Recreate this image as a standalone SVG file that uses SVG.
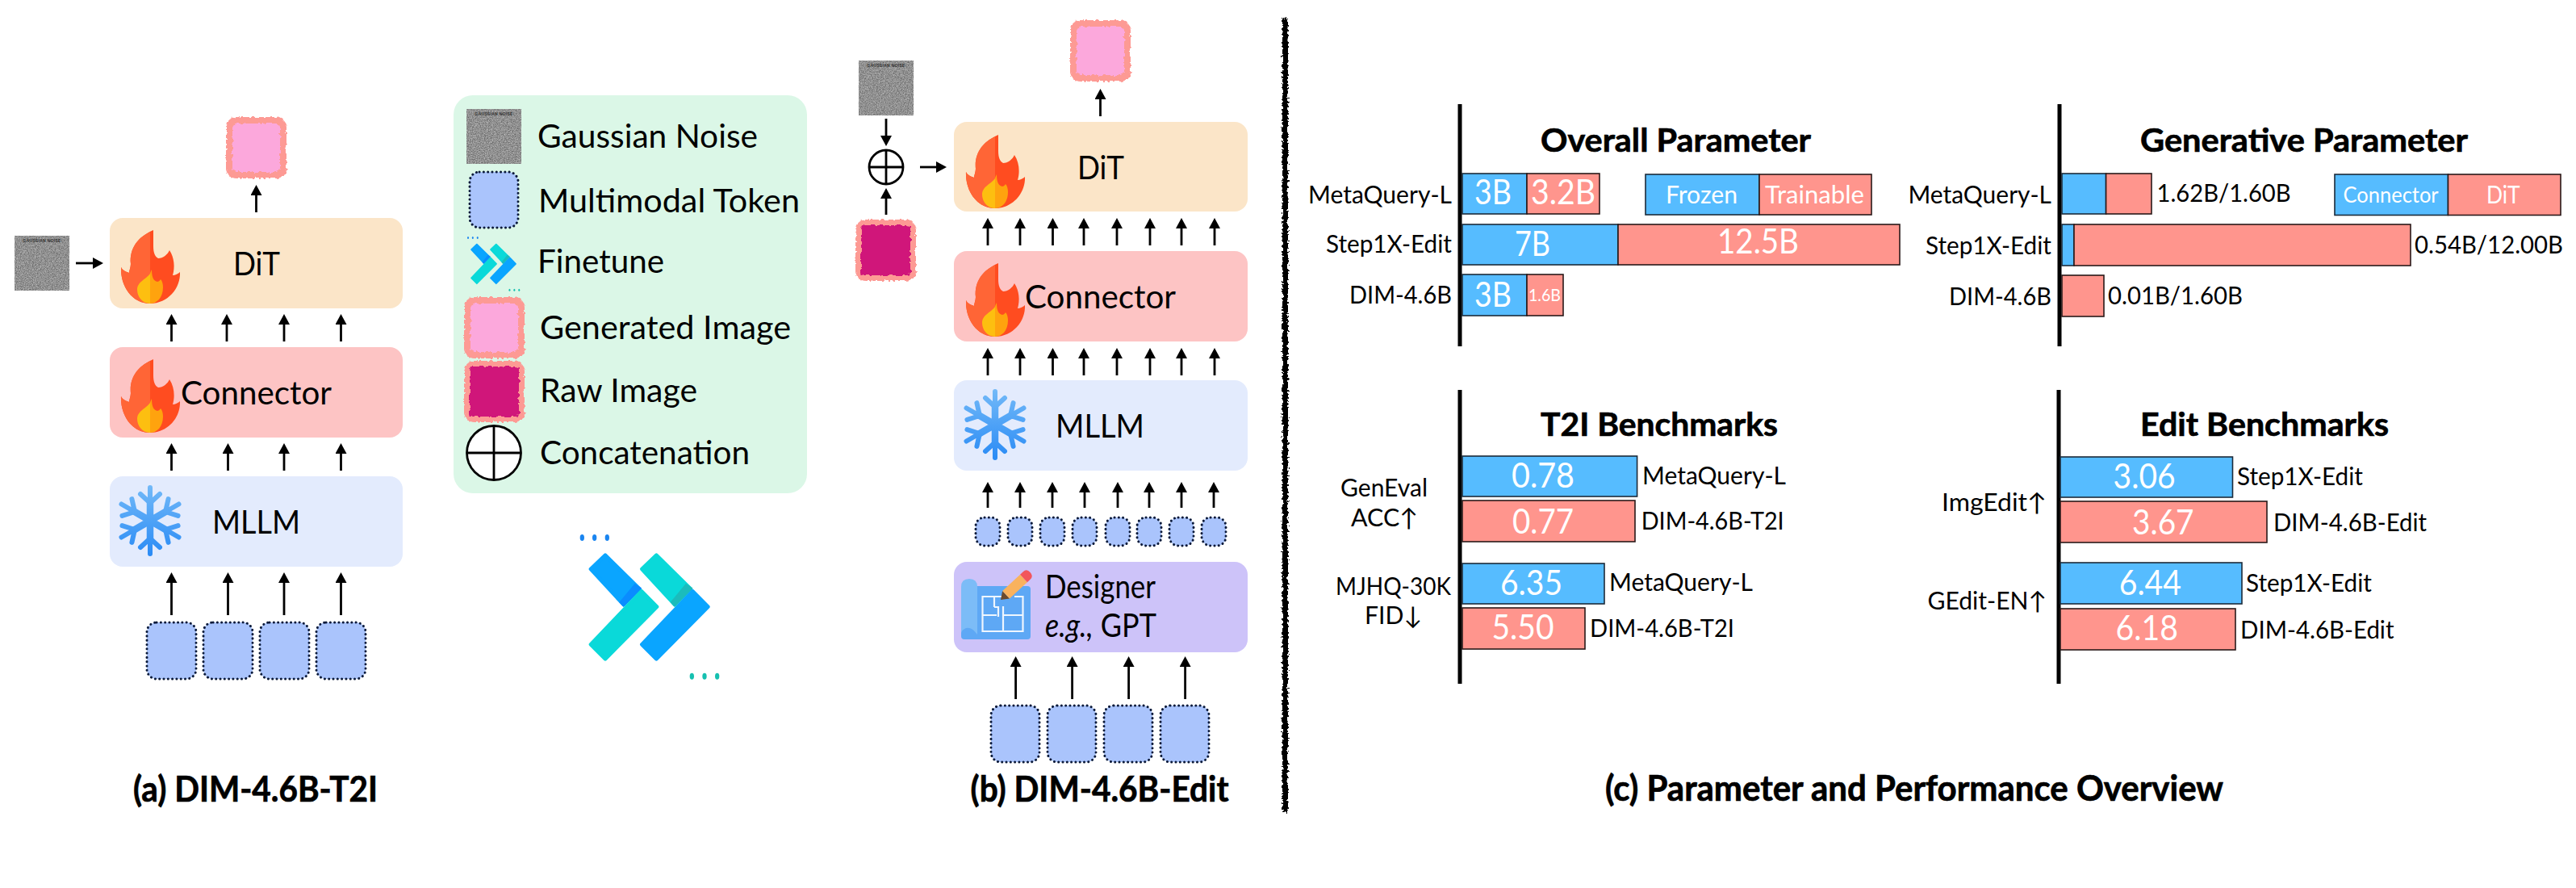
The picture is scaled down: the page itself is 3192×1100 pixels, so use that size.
<svg xmlns="http://www.w3.org/2000/svg" xmlns:xlink="http://www.w3.org/1999/xlink" width="3192" height="1100" viewBox="0 0 3192 1100">
<style>
text{font-family:Lato,"Open Sans","Noto Sans","DejaVu Sans",sans-serif;fill:#000}
.n{font-size:41px}
.s{font-size:30px}
.b{font-weight:700;font-size:41px;stroke:#000;stroke-width:.7px}
.c{font-weight:700;font-size:43px;stroke:#000;stroke-width:.7px}
.w{fill:#fff;font-size:42px}
.k{fill:#fff;font-size:30px}
.i{font-style:italic}
.a{stroke:#000;stroke-width:2.8;fill:none;marker-end:url(#ah)}
.blue{fill:#56bcff;stroke:#1c2b3a;stroke-width:1.6}
.red{fill:#ff958d;stroke:#2a1a1a;stroke-width:1.6}
.ax{fill:#000}
.tok{fill:#aac4fc;stroke:#0b1a3a;stroke-width:3;stroke-linecap:round;stroke-dasharray:.1 5.2}
.dit{fill:#fbe5c8}.con{fill:#fdc4c4}.mllm{fill:#e3ebfd}.des{fill:#cdc3f9}
</style>
<defs>
<marker id="ah" markerUnits="userSpaceOnUse" markerWidth="14" markerHeight="14" viewBox="0 0 13 14" refX="1" refY="7" orient="auto"><path d="M0,0L13,7L0,14Z" fill="#000"/></marker>
<filter id="rough" x="-15%" y="-15%" width="130%" height="130%"><feTurbulence type="fractalNoise" baseFrequency=".22" numOctaves="2" seed="4"/><feDisplacementMap in="SourceGraphic" scale="6" xChannelSelector="R" yChannelSelector="G"/></filter>
<filter id="roughLine" filterUnits="userSpaceOnUse" x="1570" y="10" width="44" height="1010"><feTurbulence type="fractalNoise" baseFrequency=".35" numOctaves="2" seed="7"/><feDisplacementMap in="SourceGraphic" scale="7" xChannelSelector="R" yChannelSelector="G"/></filter>
<filter id="grain" x="0" y="0" width="1" height="1" color-interpolation-filters="sRGB"><feTurbulence type="fractalNoise" baseFrequency=".8" numOctaves="2" seed="3"/><feColorMatrix type="matrix" values=".55 0 0 0 .29 .55 0 0 0 .29 .55 0 0 0 .29 0 0 0 0 1"/></filter>
<linearGradient id="ice" gradientUnits="userSpaceOnUse" x1="0" y1="-43" x2="0" y2="43"><stop offset="0" stop-color="#72b9f8"/><stop offset="1" stop-color="#2a8bf5"/></linearGradient>
<g id="noise"><rect width="68" height="68" fill="#8f8f8f" filter="url(#grain)"/><text x="34" y="8" text-anchor="middle" font-size="5" font-weight="700" style="fill:#333;font-family:'Liberation Sans',sans-serif;letter-spacing:.3px">GAUSSIAN NOISE</text></g>
<g id="gen"><g filter="url(#rough)"><rect width="75" height="76" rx="13" fill="#fd9a94"/><rect x="8" y="8" width="59" height="60" rx="5" fill="#fca8dc"/></g></g>
<g id="raw"><g filter="url(#rough)"><rect width="75" height="76" rx="13" fill="#fd9a94"/><rect x="7" y="7" width="61" height="62" rx="3" fill="#d0187a"/></g></g>
<g id="flame">
<path fill="#ff4c20" d="M40,0C22,8 10,22 12,42C12,46 10,50 10,53C7,52 2,50 0,46C-1,70 14,91 36,91C58,91 74,72 73,52C71,54 67,56 64,56C67,46 66,34 60,25C58,30 52,35 46,35C42,33 40,28 40,20Z"/>
<path fill="#ff6536" d="M36,91C14,91 -1,70 0,46C2,50 7,52 10,53C10,50 12,46 12,42C10,22 22,8 36,2.500Z"/>
<path fill="#ffa30e" d="M36,91C44,91 52,84 52,71C52,67 51,63 49,61C48,63 46,64 45,64C41,63 38,60 38,49C37,51 36,53 36,54Z"/>
<path fill="#fdbf10" d="M36,91C26,91 20,82 20,74C20,64 31,61 36,54Z"/>
</g>
<g id="snow" fill="none" stroke="url(#ice)" stroke-linecap="round" stroke-linejoin="round">
<path stroke-width="6" d="M0,-41V41M35.500,-20.500L-35.500,20.500M35.500,20.500L-35.500,-20.500M-12,-33L0,-22L12,-33M22.580,-26.890L19.050,-11L34.580,-6.110M34.580,6.110L19.050,11L22.580,26.890M12,33L0,22L-12,33M-22.580,26.890L-19.050,11L-34.580,6.110M-34.580,-6.110L-19.050,-11L-22.580,-26.890"/>
<path stroke-width="8.500" d="M0,-22V22M19,-11L-19,11M19,11L-19,-11"/>
</g>
<g id="fine" stroke-width="14" stroke-linejoin="round">
<path fill="#0aa5ff" stroke="#0aa5ff" d="M156,255L210,203L337,328L278,387Z"/>
<path fill="#0a8cff" d="M320,308L346,326L278,396L262,378Z"/>
<path fill="#0ad9d9" stroke="#0ad9d9" d="M345,337L402,395L210,589L156,535Z"/>
<path fill="#0ad9d9" stroke="#0ad9d9" d="M346,255L400,203L527,328L468,387Z"/>
<path fill="#1bbcbc" d="M510,308L536,326L468,396L452,378Z"/>
<path fill="#0aa5ff" stroke="#0aa5ff" d="M535,337L592,395L400,589L346,535Z"/>
<g stroke="none" fill="#1a85f0"><ellipse cx="124" cy="138" rx="8" ry="12"/><ellipse cx="170" cy="138" rx="8" ry="12"/><ellipse cx="217" cy="138" rx="8" ry="12"/></g>
<g stroke="none" fill="#16c0b0"><ellipse cx="532" cy="653" rx="8" ry="12"/><ellipse cx="579" cy="653" rx="8" ry="12"/><ellipse cx="626" cy="653" rx="8" ry="12"/></g>
</g>
</defs>
<rect width="3192" height="1100" fill="#fff"/>

<g id="connectors">
<line class="a" x1="94" y1="326" x2="116" y2="326"/>
<line class="a" x1="317.500" y1="263" x2="317.500" y2="241"/>
<line class="a" x1="212.500" y1="423" x2="212.500" y2="401"/><line class="a" x1="281" y1="423" x2="281" y2="401"/><line class="a" x1="352" y1="423" x2="352" y2="401"/><line class="a" x1="422.500" y1="423" x2="422.500" y2="401"/>
<line class="a" x1="212.500" y1="583" x2="212.500" y2="561"/><line class="a" x1="282.500" y1="583" x2="282.500" y2="561"/><line class="a" x1="352" y1="583" x2="352" y2="561"/><line class="a" x1="422.500" y1="583" x2="422.500" y2="561"/>
<line class="a" x1="212.500" y1="762" x2="212.500" y2="721"/><line class="a" x1="282.500" y1="762" x2="282.500" y2="721"/><line class="a" x1="352" y1="762" x2="352" y2="721"/><line class="a" x1="422.500" y1="762" x2="422.500" y2="721"/>
<line class="a" x1="1363.500" y1="144" x2="1363.500" y2="122"/>
<line class="a" x1="1098" y1="147" x2="1098" y2="169"/>
<line class="a" x1="1098" y1="266" x2="1098" y2="245"/>
<line class="a" x1="1140" y1="207" x2="1161" y2="207"/>
<line class="a" x1="1224" y1="304" x2="1224" y2="282"/><line class="a" x1="1264" y1="304" x2="1264" y2="282"/><line class="a" x1="1304.500" y1="304" x2="1304.500" y2="282"/><line class="a" x1="1343" y1="304" x2="1343" y2="282"/><line class="a" x1="1384" y1="304" x2="1384" y2="282"/><line class="a" x1="1425" y1="304" x2="1425" y2="282"/><line class="a" x1="1464" y1="304" x2="1464" y2="282"/><line class="a" x1="1505" y1="304" x2="1505" y2="282"/>
<line class="a" x1="1224" y1="465" x2="1224" y2="443"/><line class="a" x1="1264" y1="465" x2="1264" y2="443"/><line class="a" x1="1304.500" y1="465" x2="1304.500" y2="443"/><line class="a" x1="1343" y1="465" x2="1343" y2="443"/><line class="a" x1="1384" y1="465" x2="1384" y2="443"/><line class="a" x1="1425" y1="465" x2="1425" y2="443"/><line class="a" x1="1464" y1="465" x2="1464" y2="443"/><line class="a" x1="1505" y1="465" x2="1505" y2="443"/>
<line class="a" x1="1224" y1="629" x2="1224" y2="609"/><line class="a" x1="1264" y1="629" x2="1264" y2="609"/><line class="a" x1="1304" y1="629" x2="1304" y2="609"/><line class="a" x1="1344" y1="629" x2="1344" y2="609"/><line class="a" x1="1385" y1="629" x2="1385" y2="609"/><line class="a" x1="1424" y1="629" x2="1424" y2="609"/><line class="a" x1="1464" y1="629" x2="1464" y2="609"/><line class="a" x1="1504" y1="629" x2="1504" y2="609"/>
<line class="a" x1="1258.600" y1="866" x2="1258.600" y2="825"/><line class="a" x1="1328.600" y1="866" x2="1328.600" y2="825"/><line class="a" x1="1398.600" y1="866" x2="1398.600" y2="825"/><line class="a" x1="1468.600" y1="866" x2="1468.600" y2="825"/>
</g>

<g id="a-noise"><use href="#noise" x="18" y="292"/></g>
<g id="a-generated"><use href="#gen" x="280" y="145"/></g>
<g id="a-dit"><rect class="dit" x="136" y="270" width="363" height="112" rx="16"/><use href="#flame" x="150" y="285"/><text class="n" x="289" y="341" textLength="58" lengthAdjust="spacingAndGlyphs">DiT</text></g>
<g id="a-connector"><rect class="con" x="136" y="430" width="363" height="112" rx="16"/><use href="#flame" x="150" y="445"/><text class="n" x="224" y="501" textLength="187" lengthAdjust="spacingAndGlyphs">Connector</text></g>
<g id="a-mllm"><rect class="mllm" x="136" y="590" width="363" height="112" rx="16"/><use href="#snow" transform="translate(186,645)"/><text class="n" x="263" y="661" textLength="109" lengthAdjust="spacingAndGlyphs">MLLM</text></g>
<g id="a-token-1"><rect class="tok" x="182" y="771" width="61" height="70" rx="12"/></g>
<g id="a-token-2"><rect class="tok" x="252" y="771" width="61" height="70" rx="12"/></g>
<g id="a-token-3"><rect class="tok" x="322" y="771" width="61" height="70" rx="12"/></g>
<g id="a-token-4"><rect class="tok" x="392" y="771" width="61" height="70" rx="12"/></g>
<g id="caption-a"><text class="c" x="165" y="993" textLength="303" lengthAdjust="spacingAndGlyphs">(a) DIM-4.6B-T2I</text></g>

<g id="legend">
<rect x="562" y="118" width="438" height="493" rx="24" fill="#dbf7e7"/>
<g id="legend-noise"><use href="#noise" x="578" y="135"/><text class="n" x="666" y="183" textLength="273" lengthAdjust="spacingAndGlyphs">Gaussian Noise</text></g>
<g id="legend-token"><rect class="tok" x="582" y="213" width="60" height="69" rx="12"/><text class="n" x="667" y="263" textLength="324" lengthAdjust="spacingAndGlyphs">Multimodal Token</text></g>
<g id="legend-finetune"><use href="#fine" transform="translate(564.400,277) scale(.126)"/><text class="n" x="666" y="338" textLength="157" lengthAdjust="spacingAndGlyphs">Finetune</text></g>
<g id="legend-generated"><use href="#gen" x="575" y="368"/><text class="n" x="669" y="420" textLength="311" lengthAdjust="spacingAndGlyphs">Generated Image</text></g>
<g id="legend-raw"><use href="#raw" x="575" y="447"/><text class="n" x="669" y="498" textLength="195" lengthAdjust="spacingAndGlyphs">Raw Image</text></g>
<g id="legend-concat"><circle cx="612" cy="561" r="33.500" fill="#fff" stroke="#000" stroke-width="2.800"/><path d="M578.500,561H645.500M612,527.500V594.500" stroke="#000" stroke-width="2.800"/><text class="n" x="669" y="575" textLength="260" lengthAdjust="spacingAndGlyphs">Concatenation</text></g>
</g>
<g id="finetune-large"><use href="#fine" transform="translate(680,620) scale(.33333)"/></g>

<g id="b-noise"><use href="#noise" x="1064" y="75"/></g>
<g id="b-generated"><use href="#gen" x="1326" y="25"/></g>
<g id="b-concat"><circle cx="1098" cy="207" r="21" fill="#fff" stroke="#000" stroke-width="2.800"/><path d="M1077,207H1119M1098,186V228" stroke="#000" stroke-width="2.800"/></g>
<g id="b-raw"><use href="#raw" x="1060" y="272"/></g>
<g id="b-dit"><rect class="dit" x="1182" y="151" width="364" height="111" rx="16"/><use href="#flame" x="1197" y="167"/><text class="n" x="1335" y="222" textLength="58" lengthAdjust="spacingAndGlyphs">DiT</text></g>
<g id="b-connector"><rect class="con" x="1182" y="311" width="364" height="112" rx="16"/><use href="#flame" x="1197" y="326"/><text class="n" x="1270" y="382" textLength="187" lengthAdjust="spacingAndGlyphs">Connector</text></g>
<g id="b-mllm"><rect class="mllm" x="1182" y="471" width="364" height="112" rx="16"/><use href="#snow" transform="translate(1233,526)"/><text class="n" x="1308" y="542" textLength="110" lengthAdjust="spacingAndGlyphs">MLLM</text></g>
<g id="b-stoken-1"><rect class="tok" x="1209" y="641" width="30" height="35" rx="11"/></g>
<g id="b-stoken-2"><rect class="tok" x="1249" y="641" width="30" height="35" rx="11"/></g>
<g id="b-stoken-3"><rect class="tok" x="1289" y="641" width="30" height="35" rx="11"/></g>
<g id="b-stoken-4"><rect class="tok" x="1329" y="641" width="30" height="35" rx="11"/></g>
<g id="b-stoken-5"><rect class="tok" x="1370" y="641" width="30" height="35" rx="11"/></g>
<g id="b-stoken-6"><rect class="tok" x="1409" y="641" width="30" height="35" rx="11"/></g>
<g id="b-stoken-7"><rect class="tok" x="1449" y="641" width="30" height="35" rx="11"/></g>
<g id="b-stoken-8"><rect class="tok" x="1489" y="641" width="30" height="35" rx="11"/></g>
<g id="b-designer"><rect class="des" x="1182" y="696" width="364" height="112" rx="16"/>
<rect x="1191" y="726" width="86" height="66" rx="4" fill="#5ea8f5"/>
<path d="M1191,784V727Q1191,717 1201,717Q1211,717 1211,727V786Q1204,776 1197,778Q1192,780 1191,784Z" fill="#7cbcf7"/>
<path d="M1241,739H1217.500V782H1267.500V739H1257M1217.500,762H1235M1232,752V739M1232,752H1237V764M1243,751V773M1243,762H1267.500M1243,782V773" fill="none" stroke="#eef6fe" stroke-width="2.200"/>
<g transform="translate(1240,743) rotate(-43)"><path d="M0,0L9,-6.500V6.500Z" fill="#6b4a2f"/><rect x="9" y="-6.500" width="30" height="13" fill="#f9b25e"/><path d="M39,-6.500H44Q50,-6.500 50,0Q50,6.500 44,6.500H39Z" fill="#f2565c"/></g>
<text class="n" x="1295" y="741" textLength="137" lengthAdjust="spacingAndGlyphs">Designer</text>
<text class="n" x="1295" y="789" textLength="138" lengthAdjust="spacingAndGlyphs"><tspan class="i">e.g.,</tspan> GPT</text></g>
<g id="b-token-1"><rect class="tok" x="1228" y="874" width="60" height="70" rx="12"/></g>
<g id="b-token-2"><rect class="tok" x="1298" y="874" width="60" height="70" rx="12"/></g>
<g id="b-token-3"><rect class="tok" x="1368" y="874" width="60" height="70" rx="12"/></g>
<g id="b-token-4"><rect class="tok" x="1438" y="874" width="60" height="70" rx="12"/></g>
<g id="caption-b"><text class="c" x="1202.500" y="993" textLength="320" lengthAdjust="spacingAndGlyphs">(b) DIM-4.6B-Edit</text></g>

<g id="divider"><rect x="1589" y="22" width="7" height="985" fill="#000" filter="url(#roughLine)"/></g>

<g id="overall">
<rect class="ax" x="1806.500" y="129" width="5" height="300"/>
<text class="b" x="1909" y="188" textLength="335" lengthAdjust="spacingAndGlyphs">Overall Parameter</text>
<text class="s" x="1621" y="252" textLength="178" lengthAdjust="spacingAndGlyphs">MetaQuery-L</text>
<text class="s" x="1643" y="313" textLength="156" lengthAdjust="spacingAndGlyphs">Step1X-Edit</text>
<text class="s" x="1672" y="376" textLength="127" lengthAdjust="spacingAndGlyphs">DIM-4.6B</text>
<rect class="blue" x="1812" y="215" width="80" height="50"/><rect class="red" x="1892" y="215" width="90" height="50"/>
<text class="w" x="1827" y="253" textLength="46" lengthAdjust="spacingAndGlyphs">3B</text><text class="w" x="1897" y="253" textLength="80" lengthAdjust="spacingAndGlyphs">3.2B</text>
<rect class="blue" x="1812" y="278" width="193" height="50"/><rect class="red" x="2005" y="278" width="349" height="50"/>
<text class="w" x="1877" y="317" textLength="44" lengthAdjust="spacingAndGlyphs">7B</text><text class="w" x="2128" y="314" textLength="101" lengthAdjust="spacingAndGlyphs">12.5B</text>
<rect class="blue" x="1812" y="340" width="80" height="51"/><rect class="red" x="1892" y="340" width="45" height="51"/>
<text class="w" x="1827" y="380" textLength="46" lengthAdjust="spacingAndGlyphs">3B</text><text class="w" x="1894" y="373" style="font-size:21px" textLength="40" lengthAdjust="spacingAndGlyphs">1.6B</text>
<rect class="blue" x="2039" y="216" width="141" height="50"/><rect class="red" x="2180" y="216" width="139" height="50"/>
<text class="k" x="2064" y="252" textLength="89" lengthAdjust="spacingAndGlyphs">Frozen</text><text class="k" x="2187" y="252" textLength="123" lengthAdjust="spacingAndGlyphs">Trainable</text>
</g>

<g id="generative">
<rect class="ax" x="2549.500" y="129" width="5" height="300"/>
<text class="b" x="2652" y="188" textLength="406" lengthAdjust="spacingAndGlyphs">Generative Parameter</text>
<text class="s" x="2364.500" y="252" textLength="177.500" lengthAdjust="spacingAndGlyphs">MetaQuery-L</text>
<text class="s" x="2386" y="315" textLength="156" lengthAdjust="spacingAndGlyphs">Step1X-Edit</text>
<text class="s" x="2415" y="378" textLength="127" lengthAdjust="spacingAndGlyphs">DIM-4.6B</text>
<rect class="blue" x="2555" y="215" width="54.600" height="50"/><rect class="red" x="2609.600" y="215" width="56.400" height="50"/>
<text class="s" x="2672.600" y="250" textLength="166" lengthAdjust="spacingAndGlyphs">1.62B/1.60B</text>
<rect class="blue" x="2555" y="278" width="15" height="51"/><rect class="red" x="2570" y="278" width="417" height="51"/>
<text class="s" x="2992" y="314" textLength="184" lengthAdjust="spacingAndGlyphs">0.54B/12.00B</text>
<rect class="red" x="2555" y="341" width="52" height="51"/>
<text class="s" x="2612" y="377" textLength="167" lengthAdjust="spacingAndGlyphs">0.01B/1.60B</text>
<rect class="blue" x="2893" y="216" width="140.500" height="50.500"/><rect class="red" x="3033.500" y="216" width="139.500" height="50.500"/>
<text class="k" x="2903.600" y="251" style="font-size:27px" textLength="118" lengthAdjust="spacingAndGlyphs">Connector</text><text class="k" x="3081" y="252" textLength="41.600" lengthAdjust="spacingAndGlyphs">DiT</text>
</g>

<g id="t2i">
<rect class="ax" x="1806.500" y="483" width="5" height="364"/>
<text class="b" x="1909" y="540" textLength="294" lengthAdjust="spacingAndGlyphs">T2I Benchmarks</text>
<text class="s" x="1661" y="615" textLength="108" lengthAdjust="spacingAndGlyphs">GenEval</text>
<text class="s" x="1674" y="652" textLength="83" lengthAdjust="spacingAndGlyphs">ACC↑</text>
<text class="s" x="1655" y="737" textLength="143" lengthAdjust="spacingAndGlyphs">MJHQ-30K</text>
<text class="s" x="1691" y="773" textLength="71" lengthAdjust="spacingAndGlyphs">FID↓</text>
<rect class="blue" x="1812" y="565" width="216.600" height="50"/><text class="w" x="1873" y="604" textLength="78" lengthAdjust="spacingAndGlyphs">0.78</text><text class="s" x="2035" y="600" textLength="178" lengthAdjust="spacingAndGlyphs">MetaQuery-L</text>
<rect class="red" x="1812" y="620" width="214" height="51"/><text class="w" x="1874" y="661" textLength="76" lengthAdjust="spacingAndGlyphs">0.77</text><text class="s" x="2033.700" y="656" textLength="177" lengthAdjust="spacingAndGlyphs">DIM-4.6B-T2I</text>
<rect class="blue" x="1812" y="698" width="176" height="50"/><text class="w" x="1859" y="737" textLength="77" lengthAdjust="spacingAndGlyphs">6.35</text><text class="s" x="1994" y="732" textLength="178" lengthAdjust="spacingAndGlyphs">MetaQuery-L</text>
<rect class="red" x="1812" y="753" width="152" height="51"/><text class="w" x="1848.500" y="792" textLength="77" lengthAdjust="spacingAndGlyphs">5.50</text><text class="s" x="1970" y="789" textLength="179" lengthAdjust="spacingAndGlyphs">DIM-4.6B-T2I</text>
</g>

<g id="edit">
<rect class="ax" x="2548.500" y="483" width="5" height="364"/>
<text class="b" x="2652" y="540" textLength="308" lengthAdjust="spacingAndGlyphs">Edit Benchmarks</text>
<text class="s" x="2406" y="633" textLength="130" lengthAdjust="spacingAndGlyphs">ImgEdit↑</text>
<text class="s" x="2388.500" y="755" textLength="147.500" lengthAdjust="spacingAndGlyphs">GEdit-EN↑</text>
<rect class="blue" x="2553" y="566" width="213.500" height="50"/><text class="w" x="2618.600" y="605" textLength="77" lengthAdjust="spacingAndGlyphs">3.06</text><text class="s" x="2772" y="601" textLength="156" lengthAdjust="spacingAndGlyphs">Step1X-Edit</text>
<rect class="red" x="2553" y="621" width="256" height="51"/><text class="w" x="2642" y="662" textLength="76.600" lengthAdjust="spacingAndGlyphs">3.67</text><text class="s" x="2817" y="658" textLength="190" lengthAdjust="spacingAndGlyphs">DIM-4.6B-Edit</text>
<rect class="blue" x="2553" y="697" width="225" height="51"/><text class="w" x="2625.700" y="737" textLength="77.300" lengthAdjust="spacingAndGlyphs">6.44</text><text class="s" x="2783" y="733" textLength="156" lengthAdjust="spacingAndGlyphs">Step1X-Edit</text>
<rect class="red" x="2553" y="754" width="217" height="51"/><text class="w" x="2621.600" y="793" textLength="77.400" lengthAdjust="spacingAndGlyphs">6.18</text><text class="s" x="2776" y="791" textLength="190.500" lengthAdjust="spacingAndGlyphs">DIM-4.6B-Edit</text>
</g>

<g id="caption-c"><text class="c" x="1989" y="992" textLength="766" lengthAdjust="spacingAndGlyphs">(c) Parameter and Performance Overview</text></g>
</svg>
